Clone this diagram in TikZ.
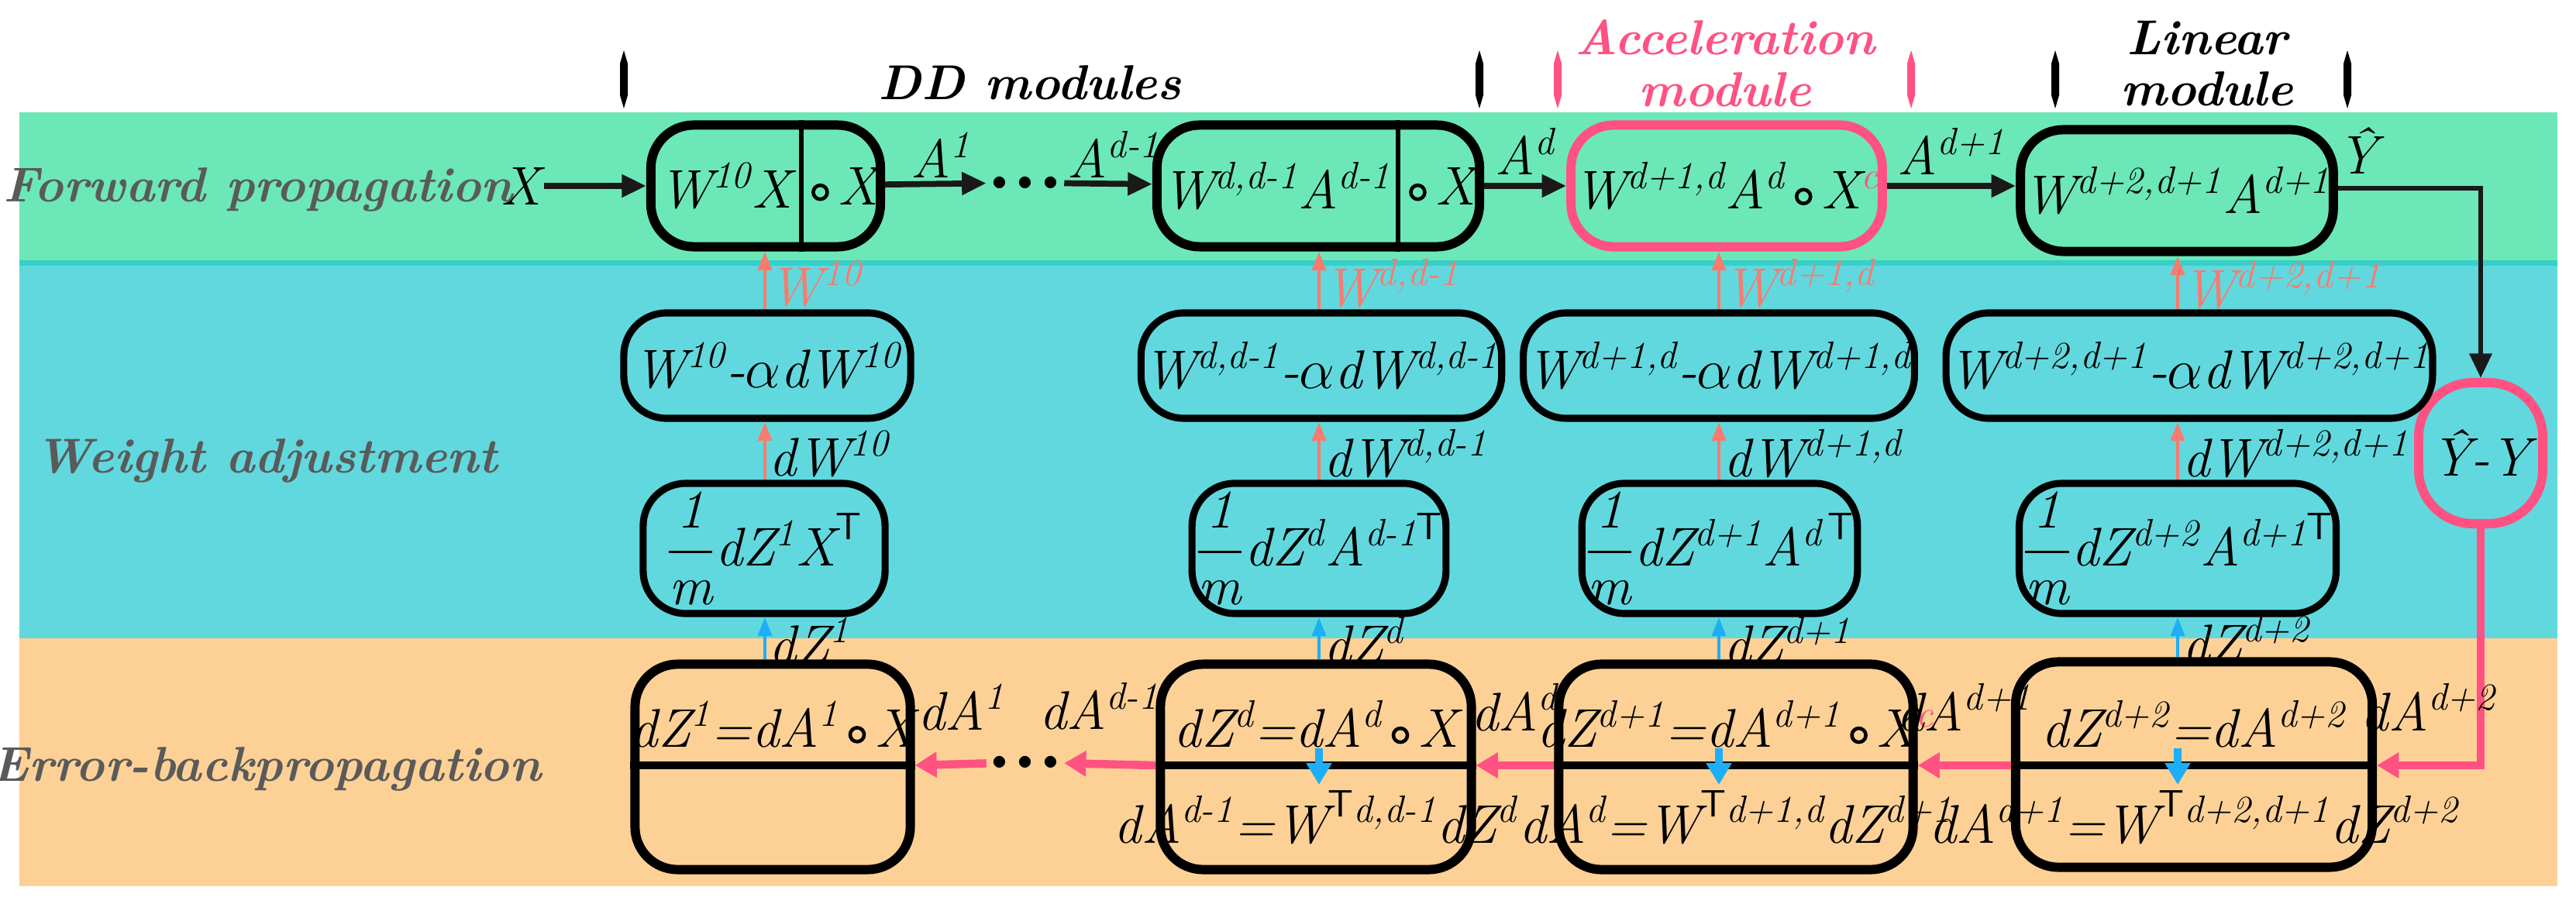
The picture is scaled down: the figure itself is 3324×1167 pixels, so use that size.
\documentclass[tikz,border=0pt]{standalone}
\usepackage{amsmath}
\usetikzlibrary{arrows.meta,calc}
\definecolor{fwdgreen}{HTML}{6CE7B8}
\definecolor{wgtblue}{HTML}{61D8DE}
\definecolor{stripteal}{HTML}{36CFC9}
\definecolor{errorange}{HTML}{FDD196}
\definecolor{accpink}{HTML}{FF5283}
\definecolor{salmon}{HTML}{F87B6E}
\definecolor{skyblue}{HTML}{1DAEF7}
\definecolor{labgray}{HTML}{5A5A5A}
\newcommand\up[1]{\textsuperscript{#1}}
\newcommand\tr{\raisebox{0.35ex}{\sffamily\upshape T}}
\newcommand\hd{\,\raisebox{0.15ex}{\tikz\draw[line width=1.3pt] (0,0) circle (0.9mm);}\,}
\begin{document}
\begin{tikzpicture}[x=0.01cm,y=-0.01cm,
  box/.style={draw,line width=2.6pt,rounded corners=0.55cm,inner sep=0pt},
  fbox/.style={box,line width=3.4pt},
  formula/.style={font=\fontsize{20}{22}\selectfont\itshape,inner sep=1pt,text=black},
  band/.style={font=\fontsize{18}{20}\selectfont\bfseries\itshape,text=labgray},
  head/.style={font=\fontsize{18}{21}\selectfont\bfseries\itshape,align=center},
  fwd/.style={-{Triangle[length=9pt,width=8pt]},line width=2.2pt,black!90},
  wup/.style={-{Triangle[length=7pt,width=5pt]},line width=1.4pt,salmon},
  zup/.style={-{Triangle[length=7pt,width=5pt]},line width=1.4pt,skyblue},
  zdown/.style={-{Triangle[length=8pt,width=9pt]},line width=3pt,skyblue},
  back/.style={-{Triangle[length=8pt,width=9pt]},line width=3pt,accpink},
  wlab/.style={formula,anchor=west},
  dots/.style={font=\fontsize{30}{30}\selectfont\bfseries,inner sep=0pt}]
\useasboundingbox (0,0) rectangle (3324,1167);
% bands
\fill[fwdgreen] (25,145) rectangle (3300,336);
\fill[stripteal] (25,336) rectangle (3300,343);
\fill[wgtblue] (25,343) rectangle (3300,824);
\fill[errorange] (25,824) rectangle (3300,1144);
\node[band] (lf) at (333,245) {Forward propagation};
\node[band] (lw) at (344,595) {Weight adjustment};
\node[band] (le) at (344,993) {Error-backpropagation};
% module markers
\foreach \x/\c in {805/black,1909/black,2010/accpink,2466/accpink,2652/black,3029/black}
  \fill[\c] (\x,65) -- (\x+5,82) -- (\x+5,123) -- (\x,140) -- (\x-5,123) -- (\x-5,82) -- cycle;
\node[head] (hdd) at (1329,107) {DD modules};
\node[head,text=accpink] (hacc) at (2226,82) {Acceleration\\[-2pt]module};
\node[head] (hlin) at (2848,82) {Linear\\[-2pt]module};
% forward row
\node[fbox,minimum width=2.96cm,minimum height=1.57cm] (b1) at (988,240) {};
\draw[line width=1.6pt] ($(b1.north west)!0.65!(b1.north east)$) -- ($(b1.south west)!0.65!(b1.south east)$);
\node[formula] (b1l) at (936,240) {W\up{10}X};
\node[formula] (b1r) at (1084,240) {\hd X};
\node[fbox,minimum width=4.16cm,minimum height=1.57cm] (b2) at (1701,240) {};
\draw[line width=1.6pt] ($(b2.north west)!0.74!(b2.north east)$) -- ($(b2.south west)!0.74!(b2.south east)$);
\node[formula] (b2l) at (1647,240) {W\up{d,d-1}A\up{d-1}};
\node[formula] (b2r) at (1855,240) {\hd X};
\node[fbox,draw=accpink,minimum width=3.93cm,minimum height=1.57cm,formula] (b3) at (2228,240) {W\up{d+1,d}A\up{d}\hd X\up{\textcolor{accpink}{c}}};
\node[fbox,minimum width=3.0cm,minimum height=1.57cm,formula] (b4) at (2809,246) {W\up{d+2,d+1}A\up{d+1}};
\node[formula] (nx) at (672,240) {X};
\node[dots] (fd) at (1323,236) {...};
\draw[fwd] (nx) -- (b1);
\draw[fwd] (b1) -- node[formula,above,xshift=2pt] (la1) {A\up{1}} (fd);
\draw[fwd] (fd) -- node[formula,above,xshift=2pt] (lad1) {A\up{d-1}} (b2);
\draw[fwd] (b2) -- node[formula,above,yshift=2pt] (lad) {A\up{d}} (b3);
\draw[fwd] (b3) -- node[formula,above,yshift=2pt] (lad2) {A\up{d+1}} (b4.west |- b3);
\node[fbox,draw=accpink,minimum width=1.6cm,minimum height=1.82cm,rounded corners=0.7cm,formula] (yy) at (3201,585) {\^{Y}-Y};
\node[formula] (yh) at (3042,195) {\^{Y}};
\draw[fwd,line width=1.8pt] (b4.east |- 0,243) -| (yy.north);
% weight update row
\foreach \n/\x/\w/\t in {w1/990/3.7/{W\up{10}-$\alpha$dW\up{10}},
                         w2/1705/4.2/{W\up{d,d-1}-$\alpha$dW\up{d,d-1}},
                         w3/2218/4.26/{W\up{d+1,d}-$\alpha$dW\up{d+1,d}},
                         w4/2825/4.57/{W\up{d+2,d+1}-$\alpha$dW\up{d+2,d+1}}}
  \node[box,minimum width=\w cm,minimum height=1.36cm,formula] (\n) at (\x,472) {\t};
\foreach \n/\x/\t in {g1/986/{$\dfrac{\text{\itshape 1}}{\text{\itshape m}}$dZ\up{1}X\up{\tr}},
                      g2/1702/{$\dfrac{\text{\itshape 1}}{\text{\itshape m}}$dZ\up{d}A\up{d-1\tr}},
                      g3/2219/{$\dfrac{\text{\itshape 1}}{\text{\itshape m}}$dZ\up{d+1}A\up{d\,\tr}},
                      g4/2810/{$\dfrac{\text{\itshape 1}}{\text{\itshape m}}$dZ\up{d+2}A\up{d+1\tr}}}
  \node[box,minimum width=3.12cm,minimum height=1.68cm,formula] (\n) at (\x,708) {\t};
% error rows
\node[fbox,minimum width=3.55cm,minimum height=2.65cm] (e1) at (997,990) {};
\node[fbox,minimum width=4.01cm,minimum height=2.65cm] (e2) at (1698,990) {};
\node[fbox,minimum width=4.57cm,minimum height=2.65cm] (e3) at (2240,990) {};
\node[fbox,minimum width=4.6cm,minimum height=2.65cm] (e4) at (2831,987) {};
\foreach \e in {e1,e2,e3,e4}
  \draw[line width=3pt] (\e.west |- 0,988) -- (\e.east |- 0,988);
\node[formula] (t1) at (997,935) {dZ\up{1}=dA\up{1}\hd X};
\node[formula] (t2) at (1698,935) {dZ\up{d}=dA\up{d}\hd X};
\node[formula] (s2) at (1698,1055) {dA\up{d-1}=W\up{\tr d,d-1}dZ\up{d}};
\node[formula] (t3) at (2240,935) {dZ\up{d+1}=dA\up{d+1}\hd X\up{\textcolor{accpink}{c}}};
\node[formula] (s3) at (2240,1055) {dA\up{d}=W\up{\tr d+1,d}dZ\up{d+1}};
\node[formula] (t4) at (2831,935) {dZ\up{d+2}=dA\up{d+2}};
\node[formula] (s4) at (2831,1055) {dA\up{d+1}=W\up{\tr d+2,d+1}dZ\up{d+2}};
\foreach \x in {1702,2218,2810}
  \draw[zdown] (\x,966) -- (\x,1013);
% vertical arrows
\foreach \i/\x/\lw/\ldw/\ldz in {1/987/{W\up{10}}/{dW\up{10}}/{dZ\up{1}},
                                 2/1702/{W\up{d,d-1}}/{dW\up{d,d-1}}/{dZ\up{d}},
                                 3/2218/{W\up{d+1,d}}/{dW\up{d+1,d}}/{dZ\up{d+1}},
                                 4/2810/{W\up{d+2,d+1}}/{dW\up{d+2,d+1}}/{dZ\up{d+2}}}{
  \draw[wup] (w\i.north -| \x,0) -- (b\i.south -| \x,0) node[pos=0.45,wlab,text=salmon] (lw\i) {\lw};
  \draw[wup] (g\i.north -| \x,0) -- (w\i.south -| \x,0) node[pos=0.45,wlab] (ldw\i) {\ldw};
  \draw[zup] (e\i.north -| \x,0) -- (g\i.south -| \x,0) node[pos=0.45,wlab] (ldz\i) {\ldz};
}
% back row
\node[dots] (ed) at (1323,984) {...};
\draw[back] (yy.south) |- (e4.east |- 0,988) node[pos=0.75,formula,above=10pt] (lda2) {dA\up{d+2}};
\draw[back] (e4.west |- 0,988) -- node[formula,above=10pt] (lda1) {dA\up{d+1}} (e3.east |- 0,988);
\draw[back] (e3.west |- 0,988) -- node[formula,above=10pt] (lda) {dA\up{d}} (e2.east |- 0,988);
\draw[back] (e2.west |- 0,988) -- node[formula,above=10pt,xshift=-4pt] (ldad) {dA\up{d-1}} (ed);
\draw[back] (ed) -- node[formula,above=10pt,xshift=4pt] (lda0) {dA\up{1}} (e1.east |- 0,988);
\end{tikzpicture}
\end{document}
